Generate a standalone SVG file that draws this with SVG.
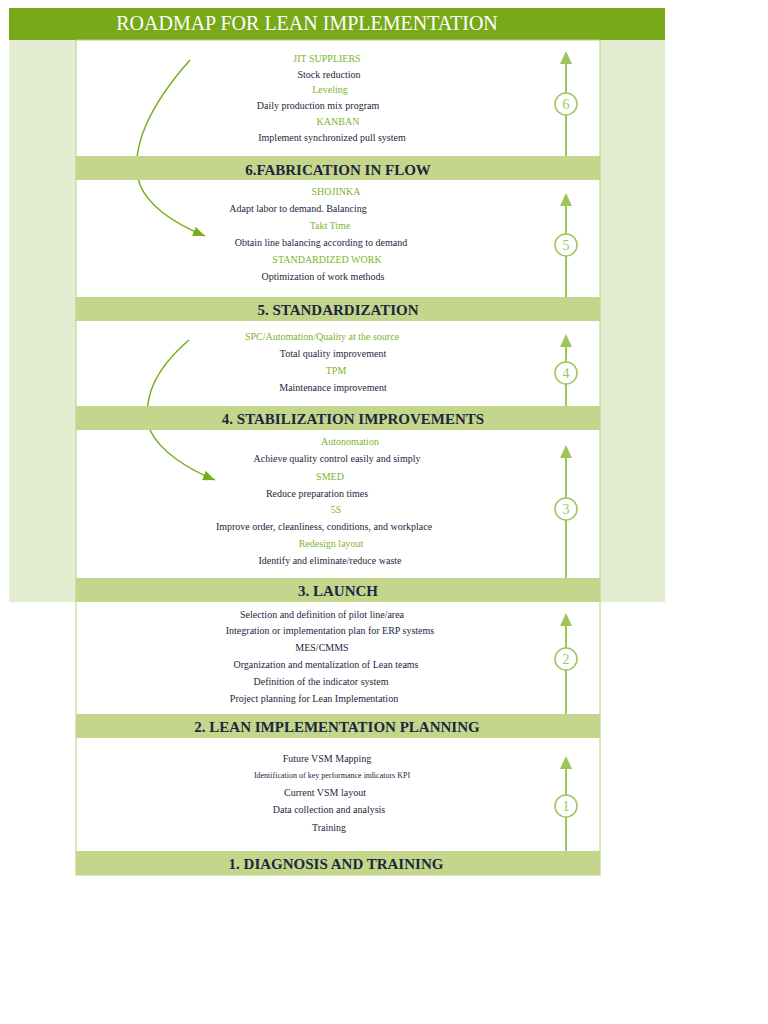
<svg xmlns="http://www.w3.org/2000/svg" width="768" height="1024" viewBox="0 0 768 1024">
<style>
.t{font-family:"Liberation Serif",serif;font-size:10px;fill:#1c2640;text-anchor:middle}
.g{font-family:"Liberation Serif",serif;font-size:10px;fill:#7cb52e;text-anchor:middle}
.h{font-family:"Liberation Serif",serif;font-size:15px;font-weight:bold;fill:#1c2640;text-anchor:middle}
.band{fill:#c3d68b}
.ax{stroke:#9dc55a;stroke-width:2;fill:none}
.c{fill:#fff;stroke:#9dc55a;stroke-width:1.5}
.n{font-family:"Liberation Serif",serif;font-size:14px;fill:#9dc55a;text-anchor:middle}
.cv{stroke:#78ad20;stroke-width:1.5;fill:none}
</style>
<defs>
<marker id="up" viewBox="0 0 10 10" refX="5" refY="0" markerWidth="10" markerHeight="12" markerUnits="userSpaceOnUse" orient="auto"><path d="M0,0 L10,0 L5,-12 Z" fill="#9dc55a" transform="translate(0,0)"/></marker>
<marker id="ah" viewBox="0 0 12 10" refX="12" refY="5" markerWidth="12" markerHeight="10" markerUnits="userSpaceOnUse" orient="auto"><path d="M0,0 L12,5 L0,10 Z" fill="#78ad20"/></marker>
</defs>
<rect x="9" y="40" width="656" height="562" fill="#e3edd1"/>
<g id="header"><rect x="9" y="8" width="656" height="32" fill="#78a918"/>
<text x="307" y="30" style="font-family:'Liberation Serif',serif;font-size:20px;fill:#fff;text-anchor:middle">ROADMAP FOR LEAN IMPLEMENTATION</text></g>
<rect x="76" y="40" width="524" height="835" fill="#fff" stroke="#b5d07a" stroke-width="1"/>
<g id="connectors">
<line class="ax" x1="566" y1="156" x2="566" y2="62"/><path d="M560,64 L566,51 L572,64 Z" fill="#9dc55a"/>
<line class="ax" x1="566" y1="297" x2="566" y2="204"/><path d="M560,206 L566,193 L572,206 Z" fill="#9dc55a"/>
<line class="ax" x1="566" y1="406" x2="566" y2="344"/><path d="M560,347 L566,334 L572,347 Z" fill="#9dc55a"/>
<line class="ax" x1="566" y1="578" x2="566" y2="455"/><path d="M560,458 L566,445 L572,458 Z" fill="#9dc55a"/>
<line class="ax" x1="566" y1="714" x2="566" y2="623"/><path d="M560,626 L566,613 L572,626 Z" fill="#9dc55a"/>
<line class="ax" x1="566" y1="851" x2="566" y2="766"/><path d="M560,769 L566,756 L572,769 Z" fill="#9dc55a"/>
<path class="cv" d="M190,60 C150,105 128,150 140,185 C150,208 178,225 205,236" marker-end="url(#ah)"/>
<path class="cv" d="M189,340 C160,365 140,395 150,430 C160,452 190,470 215,480" marker-end="url(#ah)"/>
</g>
<g id="s6"><rect class="band" x="76" y="156" width="524" height="24"/><text class="h" x="338" y="175">6.FABRICATION IN FLOW</text>
<text class="g" x="327" y="62">JIT SUPPLIERS</text><text class="t" x="329" y="78">Stock reduction</text>
<text class="g" x="330" y="93">Leveling</text><text class="t" x="318" y="109">Daily production mix program</text>
<text class="g" x="338" y="125">KANBAN</text><text class="t" x="332" y="141">Implement synchronized pull system</text>
<circle class="c" cx="566" cy="104" r="11"/><text class="n" x="566" y="109">6</text></g>
<g id="s5"><rect class="band" x="76" y="297" width="524" height="24"/><text class="h" x="338" y="315">5. STANDARDIZATION</text>
<text class="g" x="336" y="195">SHOJINKA</text><text class="t" x="298" y="212">Adapt labor to demand. Balancing</text>
<text class="g" x="330" y="229">Takt Time</text><text class="t" x="321" y="246">Obtain line balancing according to demand</text>
<text class="g" x="327" y="263">STANDARDIZED WORK</text><text class="t" x="323" y="280">Optimization of work methods</text>
<circle class="c" cx="566" cy="245" r="11"/><text class="n" x="566" y="250">5</text></g>
<g id="s4"><rect class="band" x="76" y="406" width="524" height="24"/><text class="h" x="353" y="424">4. STABILIZATION IMPROVEMENTS</text>
<text class="g" x="322" y="340">SPC/Automation/Quality at the source</text><text class="t" x="333" y="357">Total quality improvement</text>
<text class="g" x="336" y="374">TPM</text><text class="t" x="333" y="391">Maintenance improvement</text>
<circle class="c" cx="566" cy="373" r="11"/><text class="n" x="566" y="378">4</text></g>
<g id="s3"><rect class="band" x="76" y="578" width="524" height="24"/><text class="h" x="338" y="596">3. LAUNCH</text>
<text class="g" x="350" y="445">Autonomation</text><text class="t" x="337" y="462">Achieve quality control easily and simply</text>
<text class="g" x="330" y="480">SMED</text><text class="t" x="317" y="497">Reduce preparation times</text>
<text class="g" x="336" y="513">5S</text><text class="t" x="324" y="530">Improve order, cleanliness, conditions, and workplace</text>
<text class="g" x="331" y="547">Redesign layout</text><text class="t" x="330" y="564">Identify and eliminate/reduce waste</text>
<circle class="c" cx="566" cy="509" r="11"/><text class="n" x="566" y="514">3</text></g>
<g id="s2"><rect class="band" x="76" y="714" width="524" height="24"/><text class="h" x="337" y="732">2. LEAN IMPLEMENTATION PLANNING</text>
<text class="t" x="322" y="618">Selection and definition of pilot line/area</text>
<text class="t" x="330" y="634">Integration or implementation plan for ERP systems</text>
<text class="t" x="322" y="651">MES/CMMS</text>
<text class="t" x="326" y="668">Organization and mentalization of Lean teams</text>
<text class="t" x="321" y="685">Definition of the indicator system</text>
<text class="t" x="314" y="702">Project planning for Lean Implementation</text>
<circle class="c" cx="566" cy="659" r="11"/><text class="n" x="566" y="664">2</text></g>
<g id="s1"><rect class="band" x="76" y="851" width="524" height="24"/><text class="h" x="336" y="869">1. DIAGNOSIS AND TRAINING</text>
<text class="t" x="327" y="762">Future VSM Mapping</text>
<text class="t" x="332" y="778" style="font-size:8px">Identification of key performance indicators KPI</text>
<text class="t" x="325" y="796">Current VSM layout</text>
<text class="t" x="329" y="813">Data collection and analysis</text>
<text class="t" x="329" y="831">Training</text>
<circle class="c" cx="566" cy="806" r="11"/><text class="n" x="566" y="811">1</text></g>
</svg>
